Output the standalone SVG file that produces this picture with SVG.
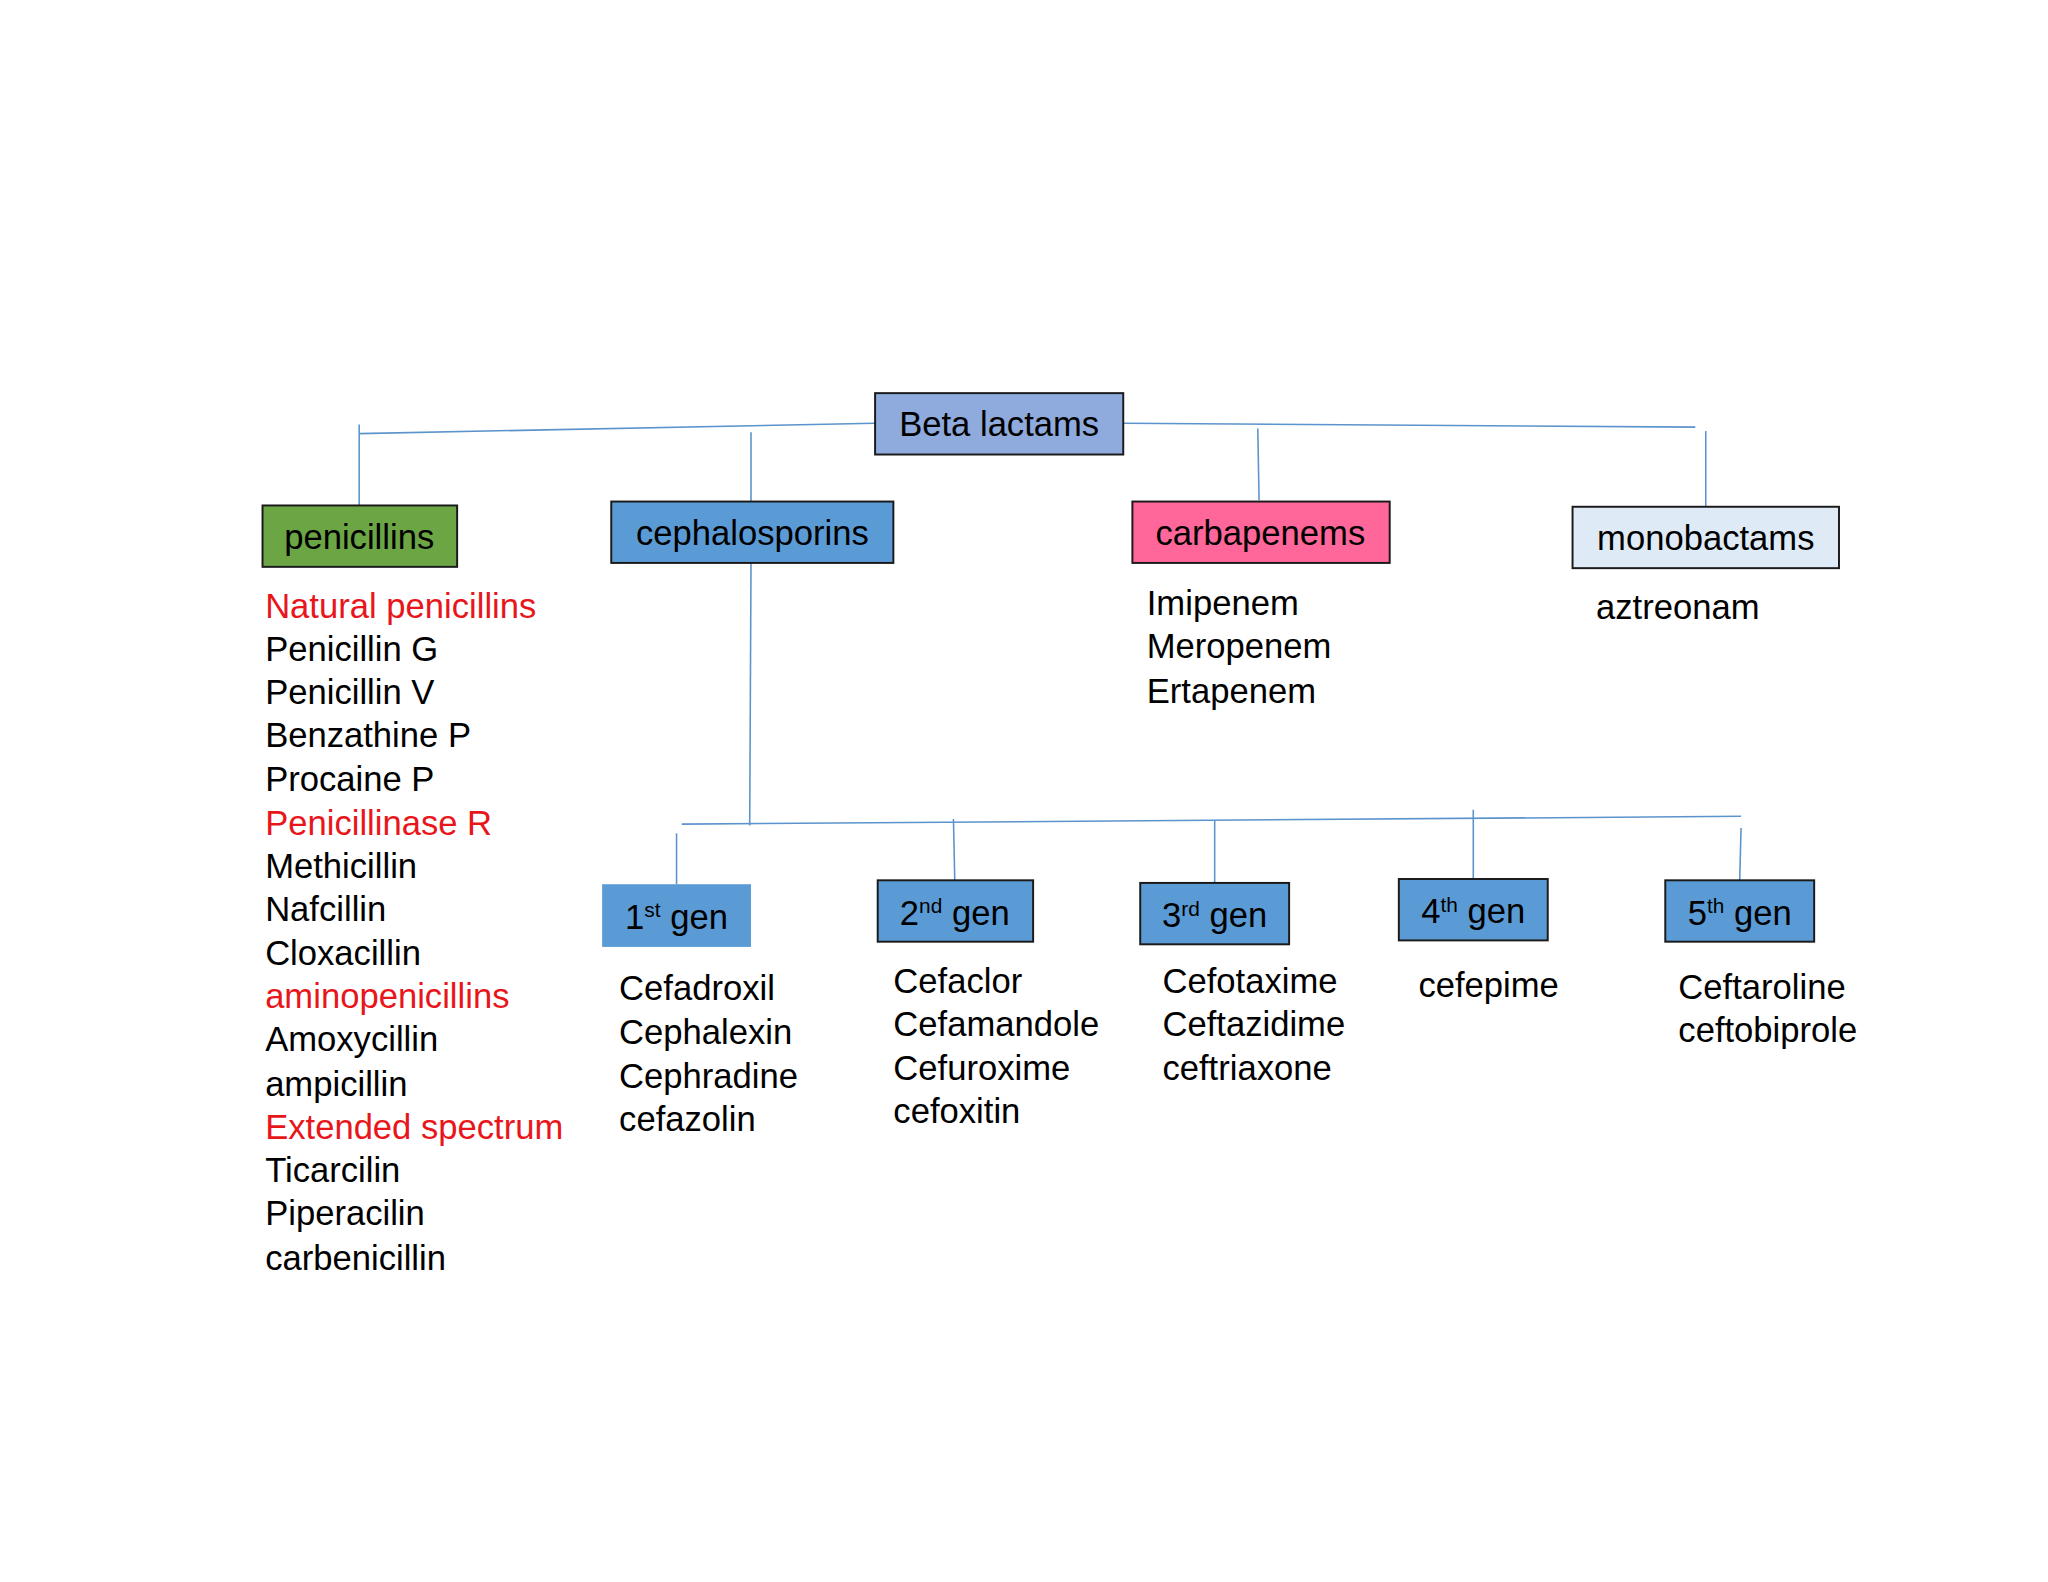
<svg xmlns="http://www.w3.org/2000/svg" width="2048" height="1582" viewBox="0 0 2048 1582">
<style>
text{font-family:"Liberation Sans",Arial,sans-serif;font-size:26.5px;fill:#000}
.r{fill:#e8161b}
.c{text-anchor:middle}
.box{stroke:#1a1a1a;stroke-width:1.5}
#connectors line{stroke:#5b93cc;stroke-width:1.2}
</style>
<rect width="2048" height="1582" fill="#fff"/>
<g transform="scale(1.3061)">
<g id="connectors">
<line x1="275" y1="332" x2="670" y2="324"/>
<line x1="860" y1="324" x2="1298" y2="327"/>
<line x1="275" y1="325" x2="275" y2="387"/>
<line x1="575" y1="331" x2="575" y2="384"/>
<line x1="963" y1="328" x2="964" y2="383"/>
<line x1="1306" y1="330" x2="1306" y2="388"/>
<line x1="575" y1="431" x2="574" y2="632"/>
<line x1="522" y1="631" x2="1333" y2="625"/>
<line x1="518" y1="638" x2="518" y2="677"/>
<line x1="730" y1="627" x2="731" y2="674"/>
<line x1="930" y1="628" x2="930" y2="676"/>
<line x1="1128" y1="620" x2="1128" y2="673"/>
<line x1="1333" y1="634" x2="1332" y2="674"/>
</g>
<g id="beta"><rect class="box" x="670" y="301" width="190" height="47" fill="#8faadc"/><text class="c" x="765" y="334">Beta lactams</text></g>
<g id="penicillins"><rect class="box" x="201" y="387" width="149" height="47" fill="#6ca544"/><text class="c" x="275" y="420">penicillins</text>
<text class="r" x="203" y="473">Natural penicillins</text>
<text x="203" y="506">Penicillin G</text>
<text x="203" y="539">Penicillin V</text>
<text x="203" y="572">Benzathine P</text>
<text x="203" y="606">Procaine P</text>
<text class="r" x="203" y="639">Penicillinase R</text>
<text x="203" y="672">Methicillin</text>
<text x="203" y="705">Nafcillin</text>
<text x="203" y="739">Cloxacillin</text>
<text class="r" x="203" y="772">aminopenicillins</text>
<text x="203" y="805">Amoxycillin</text>
<text x="203" y="839">ampicillin</text>
<text class="r" x="203" y="872">Extended spectrum</text>
<text x="203" y="905">Ticarcilin</text>
<text x="203" y="938">Piperacilin</text>
<text x="203" y="972">carbenicillin</text>
</g>
<g id="cephalosporins"><rect class="box" x="468" y="384" width="216" height="47" fill="#5b9bd5"/><text class="c" x="576" y="417">cephalosporins</text></g>
<g id="carbapenems"><rect class="box" x="867" y="384" width="197" height="47" fill="#ff6699"/><text class="c" x="965" y="417">carbapenems</text>
<text x="878" y="471">Imipenem</text><text x="878" y="504">Meropenem</text><text x="878" y="538">Ertapenem</text></g>
<g id="monobactams"><rect class="box" x="1204" y="388" width="204" height="47" fill="#deeaf6"/><text class="c" x="1306" y="421">monobactams</text>
<text x="1222" y="474">aztreonam</text></g>
<g id="gen1"><rect x="461" y="677" width="114" height="48" fill="#5b9bd5"/><text class="c" x="518" y="711">1<tspan font-size="16" dy="-9">st</tspan><tspan dy="9"> gen</tspan></text>
<text x="474" y="766">Cefadroxil</text><text x="474" y="799">Cephalexin</text><text x="474" y="833">Cephradine</text><text x="474" y="866">cefazolin</text></g>
<g id="gen2"><rect class="box" x="672" y="674" width="119" height="47" fill="#5b9bd5"/><text class="c" x="731" y="708">2<tspan font-size="16" dy="-9">nd</tspan><tspan dy="9"> gen</tspan></text>
<text x="684" y="760">Cefaclor</text><text x="684" y="793">Cefamandole</text><text x="684" y="827">Cefuroxime</text><text x="684" y="860">cefoxitin</text></g>
<g id="gen3"><rect class="box" x="873" y="676" width="114" height="47" fill="#5b9bd5"/><text class="c" x="930" y="710">3<tspan font-size="16" dy="-9">rd</tspan><tspan dy="9"> gen</tspan></text>
<text x="890" y="760">Cefotaxime</text><text x="890" y="793">Ceftazidime</text><text x="890" y="827">ceftriaxone</text></g>
<g id="gen4"><rect class="box" x="1071" y="673" width="114" height="47" fill="#5b9bd5"/><text class="c" x="1128" y="707">4<tspan font-size="16" dy="-9">th</tspan><tspan dy="9"> gen</tspan></text>
<text x="1086" y="763">cefepime</text></g>
<g id="gen5"><rect class="box" x="1275" y="674" width="114" height="47" fill="#5b9bd5"/><text class="c" x="1332" y="708">5<tspan font-size="16" dy="-9">th</tspan><tspan dy="9"> gen</tspan></text>
<text x="1285" y="765">Ceftaroline</text><text x="1285" y="798">ceftobiprole</text></g>
</g>
</svg>
